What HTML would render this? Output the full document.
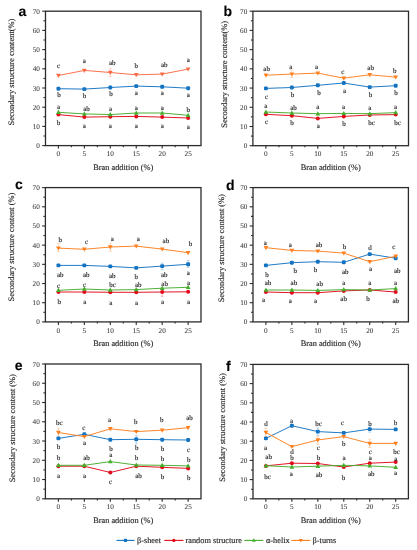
<!DOCTYPE html>
<html><head><meta charset="utf-8"><style>
html,body{margin:0;padding:0;background:#fff;width:417px;height:550px;overflow:hidden;font-family:"Liberation Serif", serif;}
svg{display:block;filter:blur(0.3px)}
</style></head><body>
<svg width="417" height="550" viewBox="0 0 417 550" font-family='"Liberation Serif", serif'>
<style>text{stroke:#2a2a2a;stroke-width:0.15px;paint-order:stroke;text-rendering:geometricPrecision}</style>
<rect width="417" height="550" fill="#fff"/>
<rect x="45.5" y="11.2" width="155.50" height="134.40" fill="none" stroke="#2b2b2b" stroke-width="1.3"/>
<line x1="42.20" y1="145.60" x2="45.5" y2="145.60" stroke="#2b2b2b" stroke-width="1.1"/>
<text x="39.90" y="148.10" text-anchor="end" font-size="7.2" fill="#383838" style="stroke-width:0.05px">0</text>
<line x1="43.50" y1="136.00" x2="45.5" y2="136.00" stroke="#2b2b2b" stroke-width="1.1"/>
<line x1="42.20" y1="126.40" x2="45.5" y2="126.40" stroke="#2b2b2b" stroke-width="1.1"/>
<text x="39.90" y="128.90" text-anchor="end" font-size="7.2" fill="#383838" style="stroke-width:0.05px">10</text>
<line x1="43.50" y1="116.80" x2="45.5" y2="116.80" stroke="#2b2b2b" stroke-width="1.1"/>
<line x1="42.20" y1="107.20" x2="45.5" y2="107.20" stroke="#2b2b2b" stroke-width="1.1"/>
<text x="39.90" y="109.70" text-anchor="end" font-size="7.2" fill="#383838" style="stroke-width:0.05px">20</text>
<line x1="43.50" y1="97.60" x2="45.5" y2="97.60" stroke="#2b2b2b" stroke-width="1.1"/>
<line x1="42.20" y1="88.00" x2="45.5" y2="88.00" stroke="#2b2b2b" stroke-width="1.1"/>
<text x="39.90" y="90.50" text-anchor="end" font-size="7.2" fill="#383838" style="stroke-width:0.05px">30</text>
<line x1="43.50" y1="78.40" x2="45.5" y2="78.40" stroke="#2b2b2b" stroke-width="1.1"/>
<line x1="42.20" y1="68.80" x2="45.5" y2="68.80" stroke="#2b2b2b" stroke-width="1.1"/>
<text x="39.90" y="71.30" text-anchor="end" font-size="7.2" fill="#383838" style="stroke-width:0.05px">40</text>
<line x1="43.50" y1="59.20" x2="45.5" y2="59.20" stroke="#2b2b2b" stroke-width="1.1"/>
<line x1="42.20" y1="49.60" x2="45.5" y2="49.60" stroke="#2b2b2b" stroke-width="1.1"/>
<text x="39.90" y="52.10" text-anchor="end" font-size="7.2" fill="#383838" style="stroke-width:0.05px">50</text>
<line x1="43.50" y1="40.00" x2="45.5" y2="40.00" stroke="#2b2b2b" stroke-width="1.1"/>
<line x1="42.20" y1="30.40" x2="45.5" y2="30.40" stroke="#2b2b2b" stroke-width="1.1"/>
<text x="39.90" y="32.90" text-anchor="end" font-size="7.2" fill="#383838" style="stroke-width:0.05px">60</text>
<line x1="43.50" y1="20.80" x2="45.5" y2="20.80" stroke="#2b2b2b" stroke-width="1.1"/>
<line x1="42.20" y1="11.20" x2="45.5" y2="11.20" stroke="#2b2b2b" stroke-width="1.1"/>
<text x="39.90" y="13.70" text-anchor="end" font-size="7.2" fill="#383838" style="stroke-width:0.05px">70</text>
<line x1="58.40" y1="145.6" x2="58.40" y2="148.60" stroke="#2b2b2b" stroke-width="1.1"/>
<text x="58.40" y="156.20" text-anchor="middle" font-size="7.2" fill="#383838" style="stroke-width:0.05px">0</text>
<line x1="71.38" y1="145.6" x2="71.38" y2="147.20" stroke="#2b2b2b" stroke-width="1.1"/>
<line x1="84.35" y1="145.6" x2="84.35" y2="148.60" stroke="#2b2b2b" stroke-width="1.1"/>
<text x="84.35" y="156.20" text-anchor="middle" font-size="7.2" fill="#383838" style="stroke-width:0.05px">5</text>
<line x1="97.32" y1="145.6" x2="97.32" y2="147.20" stroke="#2b2b2b" stroke-width="1.1"/>
<line x1="110.30" y1="145.6" x2="110.30" y2="148.60" stroke="#2b2b2b" stroke-width="1.1"/>
<text x="110.30" y="156.20" text-anchor="middle" font-size="7.2" fill="#383838" style="stroke-width:0.05px">10</text>
<line x1="123.27" y1="145.6" x2="123.27" y2="147.20" stroke="#2b2b2b" stroke-width="1.1"/>
<line x1="136.25" y1="145.6" x2="136.25" y2="148.60" stroke="#2b2b2b" stroke-width="1.1"/>
<text x="136.25" y="156.20" text-anchor="middle" font-size="7.2" fill="#383838" style="stroke-width:0.05px">15</text>
<line x1="149.22" y1="145.6" x2="149.22" y2="147.20" stroke="#2b2b2b" stroke-width="1.1"/>
<line x1="162.20" y1="145.6" x2="162.20" y2="148.60" stroke="#2b2b2b" stroke-width="1.1"/>
<text x="162.20" y="156.20" text-anchor="middle" font-size="7.2" fill="#383838" style="stroke-width:0.05px">20</text>
<line x1="175.18" y1="145.6" x2="175.18" y2="147.20" stroke="#2b2b2b" stroke-width="1.1"/>
<line x1="188.15" y1="145.6" x2="188.15" y2="148.60" stroke="#2b2b2b" stroke-width="1.1"/>
<text x="188.15" y="156.20" text-anchor="middle" font-size="7.2" fill="#383838" style="stroke-width:0.05px">25</text>
<text x="123.25" y="169.90" text-anchor="middle" font-size="8.3" fill="#2a2a2a">Bran addition (%)</text>
<text transform="translate(14.30,72.05) rotate(-90)" text-anchor="middle" font-size="8.3" fill="#2a2a2a" textLength="106.9" lengthAdjust="spacingAndGlyphs">Secondary structure content(%)</text>
<text x="18.60" y="15.5" font-family='"Liberation Sans", sans-serif' font-weight="bold" font-size="14" fill="#000" style="stroke-width:0.1px;stroke:#000">a</text>
<path d="M110.30,68.20V76.60M108.90,68.20H111.70M108.90,76.60H111.70" stroke="#fa6a45" stroke-width="0.8" fill="none" opacity="0.35"/>
<polyline points="58.40,88.70 84.35,89.10 110.30,87.50 136.25,86.10 162.20,86.80 188.15,88.20" fill="none" stroke="#1474c2" stroke-width="0.95" stroke-linejoin="round"/>
<rect x="56.45" y="86.75" width="3.9" height="3.9" rx="1.1" fill="#1474c2"/>
<rect x="82.40" y="87.15" width="3.9" height="3.9" rx="1.1" fill="#1474c2"/>
<rect x="108.35" y="85.55" width="3.9" height="3.9" rx="1.1" fill="#1474c2"/>
<rect x="134.30" y="84.15" width="3.9" height="3.9" rx="1.1" fill="#1474c2"/>
<rect x="160.25" y="84.85" width="3.9" height="3.9" rx="1.1" fill="#1474c2"/>
<rect x="186.20" y="86.25" width="3.9" height="3.9" rx="1.1" fill="#1474c2"/>
<polyline points="58.40,114.60 84.35,117.10 110.30,116.70 136.25,116.40 162.20,117.10 188.15,118.00" fill="none" stroke="#e20a1a" stroke-width="0.95" stroke-linejoin="round"/>
<circle cx="58.40" cy="114.60" r="2.0" fill="#e20a1a"/>
<circle cx="84.35" cy="117.10" r="2.0" fill="#e20a1a"/>
<circle cx="110.30" cy="116.70" r="2.0" fill="#e20a1a"/>
<circle cx="136.25" cy="116.40" r="2.0" fill="#e20a1a"/>
<circle cx="162.20" cy="117.10" r="2.0" fill="#e20a1a"/>
<circle cx="188.15" cy="118.00" r="2.0" fill="#e20a1a"/>
<polyline points="58.40,112.30 84.35,113.90 110.30,114.60 136.25,113.00 162.20,113.00 188.15,115.30" fill="none" stroke="#44ad2c" stroke-width="0.95" stroke-linejoin="round"/>
<path d="M58.40,109.80 L60.75,114.00 L56.05,114.00Z" fill="#44ad2c"/>
<path d="M84.35,111.40 L86.70,115.60 L82.00,115.60Z" fill="#44ad2c"/>
<path d="M110.30,112.10 L112.65,116.30 L107.95,116.30Z" fill="#44ad2c"/>
<path d="M136.25,110.50 L138.60,114.70 L133.90,114.70Z" fill="#44ad2c"/>
<path d="M162.20,110.50 L164.55,114.70 L159.85,114.70Z" fill="#44ad2c"/>
<path d="M188.15,112.80 L190.50,117.00 L185.80,117.00Z" fill="#44ad2c"/>
<polyline points="58.40,75.50 84.35,70.40 110.30,72.50 136.25,74.80 162.20,74.10 188.15,69.10" fill="none" stroke="#fa6a45" stroke-width="0.95" stroke-linejoin="round"/>
<path d="M56.05,73.80 L60.75,73.80 L58.40,78.00Z" fill="#fa6a45"/>
<path d="M82.00,68.70 L86.70,68.70 L84.35,72.90Z" fill="#fa6a45"/>
<path d="M107.95,70.80 L112.65,70.80 L110.30,75.00Z" fill="#fa6a45"/>
<path d="M133.90,73.10 L138.60,73.10 L136.25,77.30Z" fill="#fa6a45"/>
<path d="M159.85,72.40 L164.55,72.40 L162.20,76.60Z" fill="#fa6a45"/>
<path d="M185.80,67.40 L190.50,67.40 L188.15,71.60Z" fill="#fa6a45"/>
<text x="58.60" y="109.20" text-anchor="middle" font-size="7.0" fill="#2a2a2a">a</text>
<text x="86.50" y="110.90" text-anchor="middle" font-size="7.0" fill="#2a2a2a">ab</text>
<text x="110.60" y="110.90" text-anchor="middle" font-size="7.0" fill="#2a2a2a">a</text>
<text x="136.20" y="109.90" text-anchor="middle" font-size="7.0" fill="#2a2a2a">a</text>
<text x="162.20" y="109.90" text-anchor="middle" font-size="7.0" fill="#2a2a2a">a</text>
<text x="188.20" y="112.00" text-anchor="middle" font-size="7.0" fill="#2a2a2a">b</text>
<text x="58.60" y="125.20" text-anchor="middle" font-size="7.0" fill="#2a2a2a">b</text>
<text x="84.20" y="128.30" text-anchor="middle" font-size="7.0" fill="#2a2a2a">a</text>
<text x="110.40" y="127.90" text-anchor="middle" font-size="7.0" fill="#2a2a2a">a</text>
<text x="136.20" y="127.90" text-anchor="middle" font-size="7.0" fill="#2a2a2a">a</text>
<text x="162.20" y="128.10" text-anchor="middle" font-size="7.0" fill="#2a2a2a">a</text>
<text x="188.20" y="129.00" text-anchor="middle" font-size="7.0" fill="#2a2a2a">a</text>
<text x="58.90" y="97.20" text-anchor="middle" font-size="7.0" fill="#2a2a2a">b</text>
<text x="84.60" y="97.90" text-anchor="middle" font-size="7.0" fill="#2a2a2a">b</text>
<text x="110.90" y="96.00" text-anchor="middle" font-size="7.0" fill="#2a2a2a">b</text>
<text x="136.20" y="94.90" text-anchor="middle" font-size="7.0" fill="#2a2a2a">a</text>
<text x="162.20" y="95.30" text-anchor="middle" font-size="7.0" fill="#2a2a2a">a</text>
<text x="188.20" y="97.00" text-anchor="middle" font-size="7.0" fill="#2a2a2a">a</text>
<text x="58.60" y="68.30" text-anchor="middle" font-size="7.0" fill="#2a2a2a">c</text>
<text x="84.20" y="63.10" text-anchor="middle" font-size="7.0" fill="#2a2a2a">a</text>
<text x="112.30" y="64.50" text-anchor="middle" font-size="7.0" fill="#2a2a2a">ab</text>
<text x="136.20" y="67.60" text-anchor="middle" font-size="7.0" fill="#2a2a2a">b</text>
<text x="164.30" y="66.70" text-anchor="middle" font-size="7.0" fill="#2a2a2a">ab</text>
<text x="188.20" y="61.80" text-anchor="middle" font-size="7.0" fill="#2a2a2a">a</text>
<rect x="252.9" y="11.2" width="155.60" height="134.50" fill="none" stroke="#2b2b2b" stroke-width="1.3"/>
<line x1="249.60" y1="145.70" x2="252.9" y2="145.70" stroke="#2b2b2b" stroke-width="1.1"/>
<text x="247.30" y="148.20" text-anchor="end" font-size="7.2" fill="#383838" style="stroke-width:0.05px">0</text>
<line x1="250.90" y1="136.09" x2="252.9" y2="136.09" stroke="#2b2b2b" stroke-width="1.1"/>
<line x1="249.60" y1="126.49" x2="252.9" y2="126.49" stroke="#2b2b2b" stroke-width="1.1"/>
<text x="247.30" y="128.99" text-anchor="end" font-size="7.2" fill="#383838" style="stroke-width:0.05px">10</text>
<line x1="250.90" y1="116.88" x2="252.9" y2="116.88" stroke="#2b2b2b" stroke-width="1.1"/>
<line x1="249.60" y1="107.27" x2="252.9" y2="107.27" stroke="#2b2b2b" stroke-width="1.1"/>
<text x="247.30" y="109.77" text-anchor="end" font-size="7.2" fill="#383838" style="stroke-width:0.05px">20</text>
<line x1="250.90" y1="97.66" x2="252.9" y2="97.66" stroke="#2b2b2b" stroke-width="1.1"/>
<line x1="249.60" y1="88.06" x2="252.9" y2="88.06" stroke="#2b2b2b" stroke-width="1.1"/>
<text x="247.30" y="90.56" text-anchor="end" font-size="7.2" fill="#383838" style="stroke-width:0.05px">30</text>
<line x1="250.90" y1="78.45" x2="252.9" y2="78.45" stroke="#2b2b2b" stroke-width="1.1"/>
<line x1="249.60" y1="68.84" x2="252.9" y2="68.84" stroke="#2b2b2b" stroke-width="1.1"/>
<text x="247.30" y="71.34" text-anchor="end" font-size="7.2" fill="#383838" style="stroke-width:0.05px">40</text>
<line x1="250.90" y1="59.24" x2="252.9" y2="59.24" stroke="#2b2b2b" stroke-width="1.1"/>
<line x1="249.60" y1="49.63" x2="252.9" y2="49.63" stroke="#2b2b2b" stroke-width="1.1"/>
<text x="247.30" y="52.13" text-anchor="end" font-size="7.2" fill="#383838" style="stroke-width:0.05px">50</text>
<line x1="250.90" y1="40.02" x2="252.9" y2="40.02" stroke="#2b2b2b" stroke-width="1.1"/>
<line x1="249.60" y1="30.41" x2="252.9" y2="30.41" stroke="#2b2b2b" stroke-width="1.1"/>
<text x="247.30" y="32.91" text-anchor="end" font-size="7.2" fill="#383838" style="stroke-width:0.05px">60</text>
<line x1="250.90" y1="20.81" x2="252.9" y2="20.81" stroke="#2b2b2b" stroke-width="1.1"/>
<line x1="249.60" y1="11.20" x2="252.9" y2="11.20" stroke="#2b2b2b" stroke-width="1.1"/>
<text x="247.30" y="13.70" text-anchor="end" font-size="7.2" fill="#383838" style="stroke-width:0.05px">70</text>
<line x1="265.90" y1="145.7" x2="265.90" y2="148.70" stroke="#2b2b2b" stroke-width="1.1"/>
<text x="265.90" y="156.30" text-anchor="middle" font-size="7.2" fill="#383838" style="stroke-width:0.05px">0</text>
<line x1="278.88" y1="145.7" x2="278.88" y2="147.30" stroke="#2b2b2b" stroke-width="1.1"/>
<line x1="291.86" y1="145.7" x2="291.86" y2="148.70" stroke="#2b2b2b" stroke-width="1.1"/>
<text x="291.86" y="156.30" text-anchor="middle" font-size="7.2" fill="#383838" style="stroke-width:0.05px">5</text>
<line x1="304.84" y1="145.7" x2="304.84" y2="147.30" stroke="#2b2b2b" stroke-width="1.1"/>
<line x1="317.82" y1="145.7" x2="317.82" y2="148.70" stroke="#2b2b2b" stroke-width="1.1"/>
<text x="317.82" y="156.30" text-anchor="middle" font-size="7.2" fill="#383838" style="stroke-width:0.05px">10</text>
<line x1="330.80" y1="145.7" x2="330.80" y2="147.30" stroke="#2b2b2b" stroke-width="1.1"/>
<line x1="343.78" y1="145.7" x2="343.78" y2="148.70" stroke="#2b2b2b" stroke-width="1.1"/>
<text x="343.78" y="156.30" text-anchor="middle" font-size="7.2" fill="#383838" style="stroke-width:0.05px">15</text>
<line x1="356.76" y1="145.7" x2="356.76" y2="147.30" stroke="#2b2b2b" stroke-width="1.1"/>
<line x1="369.74" y1="145.7" x2="369.74" y2="148.70" stroke="#2b2b2b" stroke-width="1.1"/>
<text x="369.74" y="156.30" text-anchor="middle" font-size="7.2" fill="#383838" style="stroke-width:0.05px">20</text>
<line x1="382.72" y1="145.7" x2="382.72" y2="147.30" stroke="#2b2b2b" stroke-width="1.1"/>
<line x1="395.70" y1="145.7" x2="395.70" y2="148.70" stroke="#2b2b2b" stroke-width="1.1"/>
<text x="395.70" y="156.30" text-anchor="middle" font-size="7.2" fill="#383838" style="stroke-width:0.05px">25</text>
<text x="330.70" y="170.00" text-anchor="middle" font-size="8.3" fill="#2a2a2a">Bran addition (%)</text>
<text transform="translate(226.60,74.30) rotate(-90)" text-anchor="middle" font-size="8.3" fill="#2a2a2a" textLength="106.8" lengthAdjust="spacingAndGlyphs">Secondary structure content(%)</text>
<text x="223.40" y="15.5" font-family='"Liberation Sans", sans-serif' font-weight="bold" font-size="14" fill="#000" style="stroke-width:0.1px;stroke:#000">b</text>
<path d="M291.86,70.20V77.50M290.46,70.20H293.26M290.46,77.50H293.26" stroke="#ff7f1e" stroke-width="0.8" fill="none" opacity="0.35"/>
<polyline points="265.90,88.40 291.86,87.50 317.82,85.30 343.78,83.00 369.74,87.10 395.70,85.70" fill="none" stroke="#1474c2" stroke-width="0.95" stroke-linejoin="round"/>
<rect x="263.95" y="86.45" width="3.9" height="3.9" rx="1.1" fill="#1474c2"/>
<rect x="289.91" y="85.55" width="3.9" height="3.9" rx="1.1" fill="#1474c2"/>
<rect x="315.87" y="83.35" width="3.9" height="3.9" rx="1.1" fill="#1474c2"/>
<rect x="341.83" y="81.05" width="3.9" height="3.9" rx="1.1" fill="#1474c2"/>
<rect x="367.79" y="85.15" width="3.9" height="3.9" rx="1.1" fill="#1474c2"/>
<rect x="393.75" y="83.75" width="3.9" height="3.9" rx="1.1" fill="#1474c2"/>
<polyline points="265.90,114.30 291.86,115.70 317.82,118.40 343.78,116.40 369.74,115.00 395.70,114.60" fill="none" stroke="#e20a1a" stroke-width="0.95" stroke-linejoin="round"/>
<circle cx="265.90" cy="114.30" r="2.0" fill="#e20a1a"/>
<circle cx="291.86" cy="115.70" r="2.0" fill="#e20a1a"/>
<circle cx="317.82" cy="118.40" r="2.0" fill="#e20a1a"/>
<circle cx="343.78" cy="116.40" r="2.0" fill="#e20a1a"/>
<circle cx="369.74" cy="115.00" r="2.0" fill="#e20a1a"/>
<circle cx="395.70" cy="114.60" r="2.0" fill="#e20a1a"/>
<polyline points="265.90,112.00 291.86,113.00 317.82,113.70 343.78,113.40 369.74,113.70 395.70,112.60" fill="none" stroke="#44ad2c" stroke-width="0.95" stroke-linejoin="round"/>
<path d="M265.90,109.50 L268.25,113.70 L263.55,113.70Z" fill="#44ad2c"/>
<path d="M291.86,110.50 L294.21,114.70 L289.51,114.70Z" fill="#44ad2c"/>
<path d="M317.82,111.20 L320.17,115.40 L315.47,115.40Z" fill="#44ad2c"/>
<path d="M343.78,110.90 L346.13,115.10 L341.43,115.10Z" fill="#44ad2c"/>
<path d="M369.74,111.20 L372.09,115.40 L367.39,115.40Z" fill="#44ad2c"/>
<path d="M395.70,110.10 L398.05,114.30 L393.35,114.30Z" fill="#44ad2c"/>
<polyline points="265.90,75.20 291.86,74.10 317.82,73.10 343.78,78.20 369.74,74.80 395.70,77.10" fill="none" stroke="#ff7f1e" stroke-width="0.95" stroke-linejoin="round"/>
<path d="M263.55,73.50 L268.25,73.50 L265.90,77.70Z" fill="#ff7f1e"/>
<path d="M289.51,72.40 L294.21,72.40 L291.86,76.60Z" fill="#ff7f1e"/>
<path d="M315.47,71.40 L320.17,71.40 L317.82,75.60Z" fill="#ff7f1e"/>
<path d="M341.43,76.50 L346.13,76.50 L343.78,80.70Z" fill="#ff7f1e"/>
<path d="M367.39,73.10 L372.09,73.10 L369.74,77.30Z" fill="#ff7f1e"/>
<path d="M393.35,75.40 L398.05,75.40 L395.70,79.60Z" fill="#ff7f1e"/>
<text x="265.90" y="108.30" text-anchor="middle" font-size="7.0" fill="#2a2a2a">a</text>
<text x="293.50" y="109.50" text-anchor="middle" font-size="7.0" fill="#2a2a2a">ab</text>
<text x="317.90" y="109.20" text-anchor="middle" font-size="7.0" fill="#2a2a2a">a</text>
<text x="343.60" y="109.20" text-anchor="middle" font-size="7.0" fill="#2a2a2a">a</text>
<text x="369.90" y="109.50" text-anchor="middle" font-size="7.0" fill="#2a2a2a">a</text>
<text x="395.60" y="109.00" text-anchor="middle" font-size="7.0" fill="#2a2a2a">a</text>
<text x="266.60" y="124.20" text-anchor="middle" font-size="7.0" fill="#2a2a2a">c</text>
<text x="292.10" y="125.20" text-anchor="middle" font-size="7.0" fill="#2a2a2a">b</text>
<text x="318.20" y="128.30" text-anchor="middle" font-size="7.0" fill="#2a2a2a">a</text>
<text x="344.10" y="126.30" text-anchor="middle" font-size="7.0" fill="#2a2a2a">b</text>
<text x="371.60" y="124.90" text-anchor="middle" font-size="7.0" fill="#2a2a2a">bc</text>
<text x="397.50" y="124.90" text-anchor="middle" font-size="7.0" fill="#2a2a2a">bc</text>
<text x="266.60" y="98.70" text-anchor="middle" font-size="7.0" fill="#2a2a2a">c</text>
<text x="292.50" y="97.20" text-anchor="middle" font-size="7.0" fill="#2a2a2a">b</text>
<text x="319.00" y="94.90" text-anchor="middle" font-size="7.0" fill="#2a2a2a">b</text>
<text x="344.50" y="93.10" text-anchor="middle" font-size="7.0" fill="#2a2a2a">a</text>
<text x="370.60" y="97.00" text-anchor="middle" font-size="7.0" fill="#2a2a2a">b</text>
<text x="396.10" y="94.90" text-anchor="middle" font-size="7.0" fill="#2a2a2a">b</text>
<text x="266.60" y="70.60" text-anchor="middle" font-size="7.0" fill="#2a2a2a">ab</text>
<text x="290.70" y="69.40" text-anchor="middle" font-size="7.0" fill="#2a2a2a">a</text>
<text x="316.50" y="68.60" text-anchor="middle" font-size="7.0" fill="#2a2a2a">a</text>
<text x="342.70" y="73.80" text-anchor="middle" font-size="7.0" fill="#2a2a2a">c</text>
<text x="370.60" y="70.40" text-anchor="middle" font-size="7.0" fill="#2a2a2a">ab</text>
<text x="394.70" y="72.70" text-anchor="middle" font-size="7.0" fill="#2a2a2a">b</text>
<rect x="45.4" y="187.6" width="155.60" height="134.30" fill="none" stroke="#2b2b2b" stroke-width="1.3"/>
<line x1="42.10" y1="321.90" x2="45.4" y2="321.90" stroke="#2b2b2b" stroke-width="1.1"/>
<text x="39.80" y="324.40" text-anchor="end" font-size="7.2" fill="#383838" style="stroke-width:0.05px">0</text>
<line x1="43.40" y1="312.31" x2="45.4" y2="312.31" stroke="#2b2b2b" stroke-width="1.1"/>
<line x1="42.10" y1="302.71" x2="45.4" y2="302.71" stroke="#2b2b2b" stroke-width="1.1"/>
<text x="39.80" y="305.21" text-anchor="end" font-size="7.2" fill="#383838" style="stroke-width:0.05px">10</text>
<line x1="43.40" y1="293.12" x2="45.4" y2="293.12" stroke="#2b2b2b" stroke-width="1.1"/>
<line x1="42.10" y1="283.53" x2="45.4" y2="283.53" stroke="#2b2b2b" stroke-width="1.1"/>
<text x="39.80" y="286.03" text-anchor="end" font-size="7.2" fill="#383838" style="stroke-width:0.05px">20</text>
<line x1="43.40" y1="273.94" x2="45.4" y2="273.94" stroke="#2b2b2b" stroke-width="1.1"/>
<line x1="42.10" y1="264.34" x2="45.4" y2="264.34" stroke="#2b2b2b" stroke-width="1.1"/>
<text x="39.80" y="266.84" text-anchor="end" font-size="7.2" fill="#383838" style="stroke-width:0.05px">30</text>
<line x1="43.40" y1="254.75" x2="45.4" y2="254.75" stroke="#2b2b2b" stroke-width="1.1"/>
<line x1="42.10" y1="245.16" x2="45.4" y2="245.16" stroke="#2b2b2b" stroke-width="1.1"/>
<text x="39.80" y="247.66" text-anchor="end" font-size="7.2" fill="#383838" style="stroke-width:0.05px">40</text>
<line x1="43.40" y1="235.56" x2="45.4" y2="235.56" stroke="#2b2b2b" stroke-width="1.1"/>
<line x1="42.10" y1="225.97" x2="45.4" y2="225.97" stroke="#2b2b2b" stroke-width="1.1"/>
<text x="39.80" y="228.47" text-anchor="end" font-size="7.2" fill="#383838" style="stroke-width:0.05px">50</text>
<line x1="43.40" y1="216.38" x2="45.4" y2="216.38" stroke="#2b2b2b" stroke-width="1.1"/>
<line x1="42.10" y1="206.79" x2="45.4" y2="206.79" stroke="#2b2b2b" stroke-width="1.1"/>
<text x="39.80" y="209.29" text-anchor="end" font-size="7.2" fill="#383838" style="stroke-width:0.05px">60</text>
<line x1="43.40" y1="197.19" x2="45.4" y2="197.19" stroke="#2b2b2b" stroke-width="1.1"/>
<line x1="42.10" y1="187.60" x2="45.4" y2="187.60" stroke="#2b2b2b" stroke-width="1.1"/>
<text x="39.80" y="190.10" text-anchor="end" font-size="7.2" fill="#383838" style="stroke-width:0.05px">70</text>
<line x1="58.40" y1="321.9" x2="58.40" y2="324.90" stroke="#2b2b2b" stroke-width="1.1"/>
<text x="58.40" y="332.50" text-anchor="middle" font-size="7.2" fill="#383838" style="stroke-width:0.05px">0</text>
<line x1="71.38" y1="321.9" x2="71.38" y2="323.50" stroke="#2b2b2b" stroke-width="1.1"/>
<line x1="84.35" y1="321.9" x2="84.35" y2="324.90" stroke="#2b2b2b" stroke-width="1.1"/>
<text x="84.35" y="332.50" text-anchor="middle" font-size="7.2" fill="#383838" style="stroke-width:0.05px">5</text>
<line x1="97.32" y1="321.9" x2="97.32" y2="323.50" stroke="#2b2b2b" stroke-width="1.1"/>
<line x1="110.30" y1="321.9" x2="110.30" y2="324.90" stroke="#2b2b2b" stroke-width="1.1"/>
<text x="110.30" y="332.50" text-anchor="middle" font-size="7.2" fill="#383838" style="stroke-width:0.05px">10</text>
<line x1="123.27" y1="321.9" x2="123.27" y2="323.50" stroke="#2b2b2b" stroke-width="1.1"/>
<line x1="136.25" y1="321.9" x2="136.25" y2="324.90" stroke="#2b2b2b" stroke-width="1.1"/>
<text x="136.25" y="332.50" text-anchor="middle" font-size="7.2" fill="#383838" style="stroke-width:0.05px">15</text>
<line x1="149.22" y1="321.9" x2="149.22" y2="323.50" stroke="#2b2b2b" stroke-width="1.1"/>
<line x1="162.20" y1="321.9" x2="162.20" y2="324.90" stroke="#2b2b2b" stroke-width="1.1"/>
<text x="162.20" y="332.50" text-anchor="middle" font-size="7.2" fill="#383838" style="stroke-width:0.05px">20</text>
<line x1="175.18" y1="321.9" x2="175.18" y2="323.50" stroke="#2b2b2b" stroke-width="1.1"/>
<line x1="188.15" y1="321.9" x2="188.15" y2="324.90" stroke="#2b2b2b" stroke-width="1.1"/>
<text x="188.15" y="332.50" text-anchor="middle" font-size="7.2" fill="#383838" style="stroke-width:0.05px">25</text>
<text x="123.20" y="346.20" text-anchor="middle" font-size="8.3" fill="#2a2a2a">Bran addition (%)</text>
<text transform="translate(14.30,247.05) rotate(-90)" text-anchor="middle" font-size="8.3" fill="#2a2a2a" textLength="108.7" lengthAdjust="spacingAndGlyphs">Secondary structure content (%)</text>
<text x="15.00" y="189.0" font-family='"Liberation Sans", sans-serif' font-weight="bold" font-size="14" fill="#000" style="stroke-width:0.1px;stroke:#000">c</text>
<path d="M58.40,243.40V251.80M57.00,243.40H59.80M57.00,251.80H59.80" stroke="#ff7f1e" stroke-width="0.8" fill="none" opacity="0.35"/>
<path d="M110.30,243.40V251.40M108.90,243.40H111.70M108.90,251.40H111.70" stroke="#ff7f1e" stroke-width="0.8" fill="none" opacity="0.35"/>
<path d="M162.20,263.20V269.90M160.80,263.20H163.60M160.80,269.90H163.60" stroke="#1474c2" stroke-width="0.8" fill="none" opacity="0.35"/>
<path d="M188.15,260.30V267.50M186.75,260.30H189.55M186.75,267.50H189.55" stroke="#1474c2" stroke-width="0.8" fill="none" opacity="0.35"/>
<path d="M162.20,289.00V296.30M160.80,289.00H163.60M160.80,296.30H163.60" stroke="#e20a1a" stroke-width="0.8" fill="none" opacity="0.35"/>
<polyline points="58.40,265.40 84.35,265.40 110.30,266.40 136.25,267.90 162.20,266.10 188.15,264.30" fill="none" stroke="#1474c2" stroke-width="0.95" stroke-linejoin="round"/>
<rect x="56.45" y="263.45" width="3.9" height="3.9" rx="1.1" fill="#1474c2"/>
<rect x="82.40" y="263.45" width="3.9" height="3.9" rx="1.1" fill="#1474c2"/>
<rect x="108.35" y="264.45" width="3.9" height="3.9" rx="1.1" fill="#1474c2"/>
<rect x="134.30" y="265.95" width="3.9" height="3.9" rx="1.1" fill="#1474c2"/>
<rect x="160.25" y="264.15" width="3.9" height="3.9" rx="1.1" fill="#1474c2"/>
<rect x="186.20" y="262.35" width="3.9" height="3.9" rx="1.1" fill="#1474c2"/>
<polyline points="58.40,292.00 84.35,292.00 110.30,292.30 136.25,292.30 162.20,292.00 188.15,291.80" fill="none" stroke="#e20a1a" stroke-width="0.95" stroke-linejoin="round"/>
<circle cx="58.40" cy="292.00" r="2.0" fill="#e20a1a"/>
<circle cx="84.35" cy="292.00" r="2.0" fill="#e20a1a"/>
<circle cx="110.30" cy="292.30" r="2.0" fill="#e20a1a"/>
<circle cx="136.25" cy="292.30" r="2.0" fill="#e20a1a"/>
<circle cx="162.20" cy="292.00" r="2.0" fill="#e20a1a"/>
<circle cx="188.15" cy="291.80" r="2.0" fill="#e20a1a"/>
<polyline points="58.40,290.30 84.35,289.00 110.30,290.00 136.25,289.60 162.20,288.20 188.15,287.30" fill="none" stroke="#44ad2c" stroke-width="0.95" stroke-linejoin="round"/>
<path d="M58.40,287.80 L60.75,292.00 L56.05,292.00Z" fill="#44ad2c"/>
<path d="M84.35,286.50 L86.70,290.70 L82.00,290.70Z" fill="#44ad2c"/>
<path d="M110.30,287.50 L112.65,291.70 L107.95,291.70Z" fill="#44ad2c"/>
<path d="M136.25,287.10 L138.60,291.30 L133.90,291.30Z" fill="#44ad2c"/>
<path d="M162.20,285.70 L164.55,289.90 L159.85,289.90Z" fill="#44ad2c"/>
<path d="M188.15,284.80 L190.50,289.00 L185.80,289.00Z" fill="#44ad2c"/>
<polyline points="58.40,248.10 84.35,249.30 110.30,247.00 136.25,246.10 162.20,249.10 188.15,252.70" fill="none" stroke="#ff7f1e" stroke-width="0.95" stroke-linejoin="round"/>
<path d="M56.05,246.40 L60.75,246.40 L58.40,250.60Z" fill="#ff7f1e"/>
<path d="M82.00,247.60 L86.70,247.60 L84.35,251.80Z" fill="#ff7f1e"/>
<path d="M107.95,245.30 L112.65,245.30 L110.30,249.50Z" fill="#ff7f1e"/>
<path d="M133.90,244.40 L138.60,244.40 L136.25,248.60Z" fill="#ff7f1e"/>
<path d="M159.85,247.40 L164.55,247.40 L162.20,251.60Z" fill="#ff7f1e"/>
<path d="M185.80,251.00 L190.50,251.00 L188.15,255.20Z" fill="#ff7f1e"/>
<text x="58.60" y="287.60" text-anchor="middle" font-size="7.0" fill="#2a2a2a">c</text>
<text x="84.60" y="286.50" text-anchor="middle" font-size="7.0" fill="#2a2a2a">c</text>
<text x="112.60" y="286.90" text-anchor="middle" font-size="7.0" fill="#2a2a2a">bc</text>
<text x="138.20" y="286.90" text-anchor="middle" font-size="7.0" fill="#2a2a2a">ab</text>
<text x="164.60" y="286.00" text-anchor="middle" font-size="7.0" fill="#2a2a2a">ab</text>
<text x="188.60" y="284.90" text-anchor="middle" font-size="7.0" fill="#2a2a2a">a</text>
<text x="59.20" y="304.00" text-anchor="middle" font-size="7.0" fill="#2a2a2a">b</text>
<text x="84.80" y="304.00" text-anchor="middle" font-size="7.0" fill="#2a2a2a">a</text>
<text x="110.90" y="304.70" text-anchor="middle" font-size="7.0" fill="#2a2a2a">a</text>
<text x="136.60" y="304.70" text-anchor="middle" font-size="7.0" fill="#2a2a2a">a</text>
<text x="162.60" y="304.20" text-anchor="middle" font-size="7.0" fill="#2a2a2a">a</text>
<text x="188.60" y="303.70" text-anchor="middle" font-size="7.0" fill="#2a2a2a">a</text>
<text x="60.30" y="276.70" text-anchor="middle" font-size="7.0" fill="#2a2a2a">ab</text>
<text x="86.20" y="276.70" text-anchor="middle" font-size="7.0" fill="#2a2a2a">ab</text>
<text x="112.30" y="277.80" text-anchor="middle" font-size="7.0" fill="#2a2a2a">ab</text>
<text x="136.20" y="278.70" text-anchor="middle" font-size="7.0" fill="#2a2a2a">b</text>
<text x="164.30" y="277.40" text-anchor="middle" font-size="7.0" fill="#2a2a2a">ab</text>
<text x="188.20" y="275.10" text-anchor="middle" font-size="7.0" fill="#2a2a2a">a</text>
<text x="60.30" y="241.90" text-anchor="middle" font-size="7.0" fill="#2a2a2a">b</text>
<text x="86.50" y="243.70" text-anchor="middle" font-size="7.0" fill="#2a2a2a">c</text>
<text x="112.30" y="241.20" text-anchor="middle" font-size="7.0" fill="#2a2a2a">a</text>
<text x="138.20" y="240.50" text-anchor="middle" font-size="7.0" fill="#2a2a2a">a</text>
<text x="165.90" y="242.60" text-anchor="middle" font-size="7.0" fill="#2a2a2a">ab</text>
<text x="190.50" y="246.40" text-anchor="middle" font-size="7.0" fill="#2a2a2a">b</text>
<rect x="253.0" y="187.6" width="155.40" height="134.30" fill="none" stroke="#2b2b2b" stroke-width="1.3"/>
<line x1="249.70" y1="321.90" x2="253.0" y2="321.90" stroke="#2b2b2b" stroke-width="1.1"/>
<text x="247.40" y="324.40" text-anchor="end" font-size="7.2" fill="#383838" style="stroke-width:0.05px">0</text>
<line x1="251.00" y1="312.31" x2="253.0" y2="312.31" stroke="#2b2b2b" stroke-width="1.1"/>
<line x1="249.70" y1="302.71" x2="253.0" y2="302.71" stroke="#2b2b2b" stroke-width="1.1"/>
<text x="247.40" y="305.21" text-anchor="end" font-size="7.2" fill="#383838" style="stroke-width:0.05px">10</text>
<line x1="251.00" y1="293.12" x2="253.0" y2="293.12" stroke="#2b2b2b" stroke-width="1.1"/>
<line x1="249.70" y1="283.53" x2="253.0" y2="283.53" stroke="#2b2b2b" stroke-width="1.1"/>
<text x="247.40" y="286.03" text-anchor="end" font-size="7.2" fill="#383838" style="stroke-width:0.05px">20</text>
<line x1="251.00" y1="273.94" x2="253.0" y2="273.94" stroke="#2b2b2b" stroke-width="1.1"/>
<line x1="249.70" y1="264.34" x2="253.0" y2="264.34" stroke="#2b2b2b" stroke-width="1.1"/>
<text x="247.40" y="266.84" text-anchor="end" font-size="7.2" fill="#383838" style="stroke-width:0.05px">30</text>
<line x1="251.00" y1="254.75" x2="253.0" y2="254.75" stroke="#2b2b2b" stroke-width="1.1"/>
<line x1="249.70" y1="245.16" x2="253.0" y2="245.16" stroke="#2b2b2b" stroke-width="1.1"/>
<text x="247.40" y="247.66" text-anchor="end" font-size="7.2" fill="#383838" style="stroke-width:0.05px">40</text>
<line x1="251.00" y1="235.56" x2="253.0" y2="235.56" stroke="#2b2b2b" stroke-width="1.1"/>
<line x1="249.70" y1="225.97" x2="253.0" y2="225.97" stroke="#2b2b2b" stroke-width="1.1"/>
<text x="247.40" y="228.47" text-anchor="end" font-size="7.2" fill="#383838" style="stroke-width:0.05px">50</text>
<line x1="251.00" y1="216.38" x2="253.0" y2="216.38" stroke="#2b2b2b" stroke-width="1.1"/>
<line x1="249.70" y1="206.79" x2="253.0" y2="206.79" stroke="#2b2b2b" stroke-width="1.1"/>
<text x="247.40" y="209.29" text-anchor="end" font-size="7.2" fill="#383838" style="stroke-width:0.05px">60</text>
<line x1="251.00" y1="197.19" x2="253.0" y2="197.19" stroke="#2b2b2b" stroke-width="1.1"/>
<line x1="249.70" y1="187.60" x2="253.0" y2="187.60" stroke="#2b2b2b" stroke-width="1.1"/>
<text x="247.40" y="190.10" text-anchor="end" font-size="7.2" fill="#383838" style="stroke-width:0.05px">70</text>
<line x1="265.90" y1="321.9" x2="265.90" y2="324.90" stroke="#2b2b2b" stroke-width="1.1"/>
<text x="265.90" y="332.50" text-anchor="middle" font-size="7.2" fill="#383838" style="stroke-width:0.05px">0</text>
<line x1="278.88" y1="321.9" x2="278.88" y2="323.50" stroke="#2b2b2b" stroke-width="1.1"/>
<line x1="291.86" y1="321.9" x2="291.86" y2="324.90" stroke="#2b2b2b" stroke-width="1.1"/>
<text x="291.86" y="332.50" text-anchor="middle" font-size="7.2" fill="#383838" style="stroke-width:0.05px">5</text>
<line x1="304.84" y1="321.9" x2="304.84" y2="323.50" stroke="#2b2b2b" stroke-width="1.1"/>
<line x1="317.82" y1="321.9" x2="317.82" y2="324.90" stroke="#2b2b2b" stroke-width="1.1"/>
<text x="317.82" y="332.50" text-anchor="middle" font-size="7.2" fill="#383838" style="stroke-width:0.05px">10</text>
<line x1="330.80" y1="321.9" x2="330.80" y2="323.50" stroke="#2b2b2b" stroke-width="1.1"/>
<line x1="343.78" y1="321.9" x2="343.78" y2="324.90" stroke="#2b2b2b" stroke-width="1.1"/>
<text x="343.78" y="332.50" text-anchor="middle" font-size="7.2" fill="#383838" style="stroke-width:0.05px">15</text>
<line x1="356.76" y1="321.9" x2="356.76" y2="323.50" stroke="#2b2b2b" stroke-width="1.1"/>
<line x1="369.74" y1="321.9" x2="369.74" y2="324.90" stroke="#2b2b2b" stroke-width="1.1"/>
<text x="369.74" y="332.50" text-anchor="middle" font-size="7.2" fill="#383838" style="stroke-width:0.05px">20</text>
<line x1="382.72" y1="321.9" x2="382.72" y2="323.50" stroke="#2b2b2b" stroke-width="1.1"/>
<line x1="395.70" y1="321.9" x2="395.70" y2="324.90" stroke="#2b2b2b" stroke-width="1.1"/>
<text x="395.70" y="332.50" text-anchor="middle" font-size="7.2" fill="#383838" style="stroke-width:0.05px">25</text>
<text x="330.70" y="346.20" text-anchor="middle" font-size="8.3" fill="#2a2a2a">Bran addition (%)</text>
<text transform="translate(224.00,248.20) rotate(-90)" text-anchor="middle" font-size="8.3" fill="#2a2a2a" textLength="108.2" lengthAdjust="spacingAndGlyphs">Secondary structure content (%)</text>
<text x="225.90" y="190.1" font-family='"Liberation Sans", sans-serif' font-weight="bold" font-size="14" fill="#000" style="stroke-width:0.1px;stroke:#000">d</text>
<polyline points="265.90,265.40 291.86,262.70 317.82,261.70 343.78,262.30 369.74,254.10 395.70,258.20" fill="none" stroke="#1474c2" stroke-width="0.95" stroke-linejoin="round"/>
<rect x="263.95" y="263.45" width="3.9" height="3.9" rx="1.1" fill="#1474c2"/>
<rect x="289.91" y="260.75" width="3.9" height="3.9" rx="1.1" fill="#1474c2"/>
<rect x="315.87" y="259.75" width="3.9" height="3.9" rx="1.1" fill="#1474c2"/>
<rect x="341.83" y="260.35" width="3.9" height="3.9" rx="1.1" fill="#1474c2"/>
<rect x="367.79" y="252.15" width="3.9" height="3.9" rx="1.1" fill="#1474c2"/>
<rect x="393.75" y="256.25" width="3.9" height="3.9" rx="1.1" fill="#1474c2"/>
<polyline points="265.90,292.00 291.86,292.70 317.82,292.70 343.78,290.90 369.74,290.00 395.70,292.00" fill="none" stroke="#e20a1a" stroke-width="0.95" stroke-linejoin="round"/>
<circle cx="265.90" cy="292.00" r="2.0" fill="#e20a1a"/>
<circle cx="291.86" cy="292.70" r="2.0" fill="#e20a1a"/>
<circle cx="317.82" cy="292.70" r="2.0" fill="#e20a1a"/>
<circle cx="343.78" cy="290.90" r="2.0" fill="#e20a1a"/>
<circle cx="369.74" cy="290.00" r="2.0" fill="#e20a1a"/>
<circle cx="395.70" cy="292.00" r="2.0" fill="#e20a1a"/>
<polyline points="265.90,290.00 291.86,290.00 317.82,290.40 343.78,289.60 369.74,290.00 395.70,288.60" fill="none" stroke="#44ad2c" stroke-width="0.95" stroke-linejoin="round"/>
<path d="M265.90,287.50 L268.25,291.70 L263.55,291.70Z" fill="#44ad2c"/>
<path d="M291.86,287.50 L294.21,291.70 L289.51,291.70Z" fill="#44ad2c"/>
<path d="M317.82,287.90 L320.17,292.10 L315.47,292.10Z" fill="#44ad2c"/>
<path d="M343.78,287.10 L346.13,291.30 L341.43,291.30Z" fill="#44ad2c"/>
<path d="M369.74,287.50 L372.09,291.70 L367.39,291.70Z" fill="#44ad2c"/>
<path d="M395.70,286.10 L398.05,290.30 L393.35,290.30Z" fill="#44ad2c"/>
<polyline points="265.90,247.70 291.86,250.40 317.82,251.10 343.78,253.10 369.74,261.70 395.70,256.30" fill="none" stroke="#ff7f1e" stroke-width="0.95" stroke-linejoin="round"/>
<path d="M263.55,246.00 L268.25,246.00 L265.90,250.20Z" fill="#ff7f1e"/>
<path d="M289.51,248.70 L294.21,248.70 L291.86,252.90Z" fill="#ff7f1e"/>
<path d="M315.47,249.40 L320.17,249.40 L317.82,253.60Z" fill="#ff7f1e"/>
<path d="M341.43,251.40 L346.13,251.40 L343.78,255.60Z" fill="#ff7f1e"/>
<path d="M367.39,260.00 L372.09,260.00 L369.74,264.20Z" fill="#ff7f1e"/>
<path d="M393.35,254.60 L398.05,254.60 L395.70,258.80Z" fill="#ff7f1e"/>
<text x="268.00" y="285.20" text-anchor="middle" font-size="7.0" fill="#2a2a2a">ab</text>
<text x="293.90" y="285.20" text-anchor="middle" font-size="7.0" fill="#2a2a2a">ab</text>
<text x="319.60" y="285.60" text-anchor="middle" font-size="7.0" fill="#2a2a2a">ab</text>
<text x="343.80" y="284.60" text-anchor="middle" font-size="7.0" fill="#2a2a2a">a</text>
<text x="369.90" y="284.90" text-anchor="middle" font-size="7.0" fill="#2a2a2a">a</text>
<text x="395.60" y="284.60" text-anchor="middle" font-size="7.0" fill="#2a2a2a">a</text>
<text x="263.50" y="302.30" text-anchor="middle" font-size="7.0" fill="#2a2a2a">a</text>
<text x="290.20" y="303.30" text-anchor="middle" font-size="7.0" fill="#2a2a2a">a</text>
<text x="315.50" y="302.60" text-anchor="middle" font-size="7.0" fill="#2a2a2a">a</text>
<text x="343.60" y="300.60" text-anchor="middle" font-size="7.0" fill="#2a2a2a">ab</text>
<text x="367.90" y="300.60" text-anchor="middle" font-size="7.0" fill="#2a2a2a">b</text>
<text x="395.80" y="302.60" text-anchor="middle" font-size="7.0" fill="#2a2a2a">ab</text>
<text x="267.00" y="277.00" text-anchor="middle" font-size="7.0" fill="#2a2a2a">b</text>
<text x="295.20" y="273.30" text-anchor="middle" font-size="7.0" fill="#2a2a2a">b</text>
<text x="315.50" y="271.90" text-anchor="middle" font-size="7.0" fill="#2a2a2a">b</text>
<text x="345.20" y="274.00" text-anchor="middle" font-size="7.0" fill="#2a2a2a">ab</text>
<text x="369.90" y="250.10" text-anchor="middle" font-size="7.0" fill="#2a2a2a">d</text>
<text x="397.20" y="272.60" text-anchor="middle" font-size="7.0" fill="#2a2a2a">ab</text>
<text x="265.20" y="245.00" text-anchor="middle" font-size="7.0" fill="#2a2a2a">a</text>
<text x="290.20" y="247.40" text-anchor="middle" font-size="7.0" fill="#2a2a2a">a</text>
<text x="319.00" y="247.40" text-anchor="middle" font-size="7.0" fill="#2a2a2a">ab</text>
<text x="344.50" y="248.70" text-anchor="middle" font-size="7.0" fill="#2a2a2a">b</text>
<text x="370.60" y="271.00" text-anchor="middle" font-size="7.0" fill="#2a2a2a">a</text>
<text x="393.80" y="249.10" text-anchor="middle" font-size="7.0" fill="#2a2a2a">c</text>
<rect x="45.4" y="364.0" width="155.60" height="134.80" fill="none" stroke="#2b2b2b" stroke-width="1.3"/>
<line x1="42.10" y1="498.80" x2="45.4" y2="498.80" stroke="#2b2b2b" stroke-width="1.1"/>
<text x="39.80" y="501.30" text-anchor="end" font-size="7.2" fill="#383838" style="stroke-width:0.05px">0</text>
<line x1="43.40" y1="489.17" x2="45.4" y2="489.17" stroke="#2b2b2b" stroke-width="1.1"/>
<line x1="42.10" y1="479.54" x2="45.4" y2="479.54" stroke="#2b2b2b" stroke-width="1.1"/>
<text x="39.80" y="482.04" text-anchor="end" font-size="7.2" fill="#383838" style="stroke-width:0.05px">10</text>
<line x1="43.40" y1="469.91" x2="45.4" y2="469.91" stroke="#2b2b2b" stroke-width="1.1"/>
<line x1="42.10" y1="460.29" x2="45.4" y2="460.29" stroke="#2b2b2b" stroke-width="1.1"/>
<text x="39.80" y="462.79" text-anchor="end" font-size="7.2" fill="#383838" style="stroke-width:0.05px">20</text>
<line x1="43.40" y1="450.66" x2="45.4" y2="450.66" stroke="#2b2b2b" stroke-width="1.1"/>
<line x1="42.10" y1="441.03" x2="45.4" y2="441.03" stroke="#2b2b2b" stroke-width="1.1"/>
<text x="39.80" y="443.53" text-anchor="end" font-size="7.2" fill="#383838" style="stroke-width:0.05px">30</text>
<line x1="43.40" y1="431.40" x2="45.4" y2="431.40" stroke="#2b2b2b" stroke-width="1.1"/>
<line x1="42.10" y1="421.77" x2="45.4" y2="421.77" stroke="#2b2b2b" stroke-width="1.1"/>
<text x="39.80" y="424.27" text-anchor="end" font-size="7.2" fill="#383838" style="stroke-width:0.05px">40</text>
<line x1="43.40" y1="412.14" x2="45.4" y2="412.14" stroke="#2b2b2b" stroke-width="1.1"/>
<line x1="42.10" y1="402.51" x2="45.4" y2="402.51" stroke="#2b2b2b" stroke-width="1.1"/>
<text x="39.80" y="405.01" text-anchor="end" font-size="7.2" fill="#383838" style="stroke-width:0.05px">50</text>
<line x1="43.40" y1="392.89" x2="45.4" y2="392.89" stroke="#2b2b2b" stroke-width="1.1"/>
<line x1="42.10" y1="383.26" x2="45.4" y2="383.26" stroke="#2b2b2b" stroke-width="1.1"/>
<text x="39.80" y="385.76" text-anchor="end" font-size="7.2" fill="#383838" style="stroke-width:0.05px">60</text>
<line x1="43.40" y1="373.63" x2="45.4" y2="373.63" stroke="#2b2b2b" stroke-width="1.1"/>
<line x1="42.10" y1="364.00" x2="45.4" y2="364.00" stroke="#2b2b2b" stroke-width="1.1"/>
<text x="39.80" y="366.50" text-anchor="end" font-size="7.2" fill="#383838" style="stroke-width:0.05px">70</text>
<line x1="58.40" y1="498.8" x2="58.40" y2="501.80" stroke="#2b2b2b" stroke-width="1.1"/>
<text x="58.40" y="509.40" text-anchor="middle" font-size="7.2" fill="#383838" style="stroke-width:0.05px">0</text>
<line x1="71.38" y1="498.8" x2="71.38" y2="500.40" stroke="#2b2b2b" stroke-width="1.1"/>
<line x1="84.35" y1="498.8" x2="84.35" y2="501.80" stroke="#2b2b2b" stroke-width="1.1"/>
<text x="84.35" y="509.40" text-anchor="middle" font-size="7.2" fill="#383838" style="stroke-width:0.05px">5</text>
<line x1="97.32" y1="498.8" x2="97.32" y2="500.40" stroke="#2b2b2b" stroke-width="1.1"/>
<line x1="110.30" y1="498.8" x2="110.30" y2="501.80" stroke="#2b2b2b" stroke-width="1.1"/>
<text x="110.30" y="509.40" text-anchor="middle" font-size="7.2" fill="#383838" style="stroke-width:0.05px">10</text>
<line x1="123.27" y1="498.8" x2="123.27" y2="500.40" stroke="#2b2b2b" stroke-width="1.1"/>
<line x1="136.25" y1="498.8" x2="136.25" y2="501.80" stroke="#2b2b2b" stroke-width="1.1"/>
<text x="136.25" y="509.40" text-anchor="middle" font-size="7.2" fill="#383838" style="stroke-width:0.05px">15</text>
<line x1="149.22" y1="498.8" x2="149.22" y2="500.40" stroke="#2b2b2b" stroke-width="1.1"/>
<line x1="162.20" y1="498.8" x2="162.20" y2="501.80" stroke="#2b2b2b" stroke-width="1.1"/>
<text x="162.20" y="509.40" text-anchor="middle" font-size="7.2" fill="#383838" style="stroke-width:0.05px">20</text>
<line x1="175.18" y1="498.8" x2="175.18" y2="500.40" stroke="#2b2b2b" stroke-width="1.1"/>
<line x1="188.15" y1="498.8" x2="188.15" y2="501.80" stroke="#2b2b2b" stroke-width="1.1"/>
<text x="188.15" y="509.40" text-anchor="middle" font-size="7.2" fill="#383838" style="stroke-width:0.05px">25</text>
<text x="123.20" y="523.10" text-anchor="middle" font-size="8.3" fill="#2a2a2a">Bran addition (%)</text>
<text transform="translate(14.60,428.20) rotate(-90)" text-anchor="middle" font-size="8.3" fill="#2a2a2a" textLength="108.2" lengthAdjust="spacingAndGlyphs">Secondary structure content (%)</text>
<text x="14.80" y="370.3" font-family='"Liberation Sans", sans-serif' font-weight="bold" font-size="14" fill="#000" style="stroke-width:0.1px;stroke:#000">e</text>
<path d="M58.40,428.30V436.60M57.00,428.30H59.80M57.00,436.60H59.80" stroke="#ff7f1e" stroke-width="0.8" fill="none" opacity="0.35"/>
<path d="M136.25,435.50V443.80M134.85,435.50H137.65M134.85,443.80H137.65" stroke="#1474c2" stroke-width="0.8" fill="none" opacity="0.35"/>
<polyline points="58.40,438.40 84.35,434.30 110.30,439.70 136.25,439.30 162.20,439.70 188.15,440.00" fill="none" stroke="#1474c2" stroke-width="0.95" stroke-linejoin="round"/>
<rect x="56.45" y="436.45" width="3.9" height="3.9" rx="1.1" fill="#1474c2"/>
<rect x="82.40" y="432.35" width="3.9" height="3.9" rx="1.1" fill="#1474c2"/>
<rect x="108.35" y="437.75" width="3.9" height="3.9" rx="1.1" fill="#1474c2"/>
<rect x="134.30" y="437.35" width="3.9" height="3.9" rx="1.1" fill="#1474c2"/>
<rect x="160.25" y="437.75" width="3.9" height="3.9" rx="1.1" fill="#1474c2"/>
<rect x="186.20" y="438.05" width="3.9" height="3.9" rx="1.1" fill="#1474c2"/>
<polyline points="58.40,466.20 84.35,466.20 110.30,472.50 136.25,466.20 162.20,467.30 188.15,468.40" fill="none" stroke="#e20a1a" stroke-width="0.95" stroke-linejoin="round"/>
<circle cx="58.40" cy="466.20" r="2.0" fill="#e20a1a"/>
<circle cx="84.35" cy="466.20" r="2.0" fill="#e20a1a"/>
<circle cx="110.30" cy="472.50" r="2.0" fill="#e20a1a"/>
<circle cx="136.25" cy="466.20" r="2.0" fill="#e20a1a"/>
<circle cx="162.20" cy="467.30" r="2.0" fill="#e20a1a"/>
<circle cx="188.15" cy="468.40" r="2.0" fill="#e20a1a"/>
<polyline points="58.40,465.30 84.35,465.30 110.30,461.60 136.25,465.00 162.20,465.30 188.15,465.90" fill="none" stroke="#44ad2c" stroke-width="0.95" stroke-linejoin="round"/>
<path d="M58.40,462.80 L60.75,467.00 L56.05,467.00Z" fill="#44ad2c"/>
<path d="M84.35,462.80 L86.70,467.00 L82.00,467.00Z" fill="#44ad2c"/>
<path d="M110.30,459.10 L112.65,463.30 L107.95,463.30Z" fill="#44ad2c"/>
<path d="M136.25,462.50 L138.60,466.70 L133.90,466.70Z" fill="#44ad2c"/>
<path d="M162.20,462.80 L164.55,467.00 L159.85,467.00Z" fill="#44ad2c"/>
<path d="M188.15,463.40 L190.50,467.60 L185.80,467.60Z" fill="#44ad2c"/>
<polyline points="58.40,432.50 84.35,436.60 110.30,428.80 136.25,431.60 162.20,430.20 188.15,427.70" fill="none" stroke="#ff7f1e" stroke-width="0.95" stroke-linejoin="round"/>
<path d="M56.05,430.80 L60.75,430.80 L58.40,435.00Z" fill="#ff7f1e"/>
<path d="M82.00,434.90 L86.70,434.90 L84.35,439.10Z" fill="#ff7f1e"/>
<path d="M107.95,427.10 L112.65,427.10 L110.30,431.30Z" fill="#ff7f1e"/>
<path d="M133.90,429.90 L138.60,429.90 L136.25,434.10Z" fill="#ff7f1e"/>
<path d="M159.85,428.50 L164.55,428.50 L162.20,432.70Z" fill="#ff7f1e"/>
<path d="M185.80,426.00 L190.50,426.00 L188.15,430.20Z" fill="#ff7f1e"/>
<text x="58.60" y="460.40" text-anchor="middle" font-size="7.0" fill="#2a2a2a">b</text>
<text x="86.50" y="460.40" text-anchor="middle" font-size="7.0" fill="#2a2a2a">ab</text>
<text x="110.90" y="457.40" text-anchor="middle" font-size="7.0" fill="#2a2a2a">a</text>
<text x="136.60" y="460.10" text-anchor="middle" font-size="7.0" fill="#2a2a2a">b</text>
<text x="162.60" y="460.80" text-anchor="middle" font-size="7.0" fill="#2a2a2a">b</text>
<text x="188.80" y="461.80" text-anchor="middle" font-size="7.0" fill="#2a2a2a">b</text>
<text x="58.60" y="478.30" text-anchor="middle" font-size="7.0" fill="#2a2a2a">a</text>
<text x="84.60" y="478.30" text-anchor="middle" font-size="7.0" fill="#2a2a2a">a</text>
<text x="110.60" y="484.00" text-anchor="middle" font-size="7.0" fill="#2a2a2a">c</text>
<text x="138.50" y="478.20" text-anchor="middle" font-size="7.0" fill="#2a2a2a">ab</text>
<text x="162.60" y="479.00" text-anchor="middle" font-size="7.0" fill="#2a2a2a">b</text>
<text x="188.80" y="479.50" text-anchor="middle" font-size="7.0" fill="#2a2a2a">b</text>
<text x="58.60" y="449.00" text-anchor="middle" font-size="7.0" fill="#2a2a2a">b</text>
<text x="83.70" y="429.70" text-anchor="middle" font-size="7.0" fill="#2a2a2a">c</text>
<text x="110.90" y="450.60" text-anchor="middle" font-size="7.0" fill="#2a2a2a">b</text>
<text x="136.80" y="450.30" text-anchor="middle" font-size="7.0" fill="#2a2a2a">b</text>
<text x="162.60" y="450.60" text-anchor="middle" font-size="7.0" fill="#2a2a2a">b</text>
<text x="188.60" y="451.70" text-anchor="middle" font-size="7.0" fill="#2a2a2a">c</text>
<text x="59.20" y="425.00" text-anchor="middle" font-size="7.0" fill="#2a2a2a">bc</text>
<text x="84.60" y="445.40" text-anchor="middle" font-size="7.0" fill="#2a2a2a">a</text>
<text x="109.50" y="421.70" text-anchor="middle" font-size="7.0" fill="#2a2a2a">a</text>
<text x="135.70" y="424.40" text-anchor="middle" font-size="7.0" fill="#2a2a2a">b</text>
<text x="161.80" y="422.20" text-anchor="middle" font-size="7.0" fill="#2a2a2a">b</text>
<text x="189.50" y="420.30" text-anchor="middle" font-size="7.0" fill="#2a2a2a">ab</text>
<rect x="253.0" y="364.4" width="155.40" height="134.40" fill="none" stroke="#2b2b2b" stroke-width="1.3"/>
<line x1="249.70" y1="498.80" x2="253.0" y2="498.80" stroke="#2b2b2b" stroke-width="1.1"/>
<text x="247.40" y="501.30" text-anchor="end" font-size="7.2" fill="#383838" style="stroke-width:0.05px">0</text>
<line x1="251.00" y1="489.20" x2="253.0" y2="489.20" stroke="#2b2b2b" stroke-width="1.1"/>
<line x1="249.70" y1="479.60" x2="253.0" y2="479.60" stroke="#2b2b2b" stroke-width="1.1"/>
<text x="247.40" y="482.10" text-anchor="end" font-size="7.2" fill="#383838" style="stroke-width:0.05px">10</text>
<line x1="251.00" y1="470.00" x2="253.0" y2="470.00" stroke="#2b2b2b" stroke-width="1.1"/>
<line x1="249.70" y1="460.40" x2="253.0" y2="460.40" stroke="#2b2b2b" stroke-width="1.1"/>
<text x="247.40" y="462.90" text-anchor="end" font-size="7.2" fill="#383838" style="stroke-width:0.05px">20</text>
<line x1="251.00" y1="450.80" x2="253.0" y2="450.80" stroke="#2b2b2b" stroke-width="1.1"/>
<line x1="249.70" y1="441.20" x2="253.0" y2="441.20" stroke="#2b2b2b" stroke-width="1.1"/>
<text x="247.40" y="443.70" text-anchor="end" font-size="7.2" fill="#383838" style="stroke-width:0.05px">30</text>
<line x1="251.00" y1="431.60" x2="253.0" y2="431.60" stroke="#2b2b2b" stroke-width="1.1"/>
<line x1="249.70" y1="422.00" x2="253.0" y2="422.00" stroke="#2b2b2b" stroke-width="1.1"/>
<text x="247.40" y="424.50" text-anchor="end" font-size="7.2" fill="#383838" style="stroke-width:0.05px">40</text>
<line x1="251.00" y1="412.40" x2="253.0" y2="412.40" stroke="#2b2b2b" stroke-width="1.1"/>
<line x1="249.70" y1="402.80" x2="253.0" y2="402.80" stroke="#2b2b2b" stroke-width="1.1"/>
<text x="247.40" y="405.30" text-anchor="end" font-size="7.2" fill="#383838" style="stroke-width:0.05px">50</text>
<line x1="251.00" y1="393.20" x2="253.0" y2="393.20" stroke="#2b2b2b" stroke-width="1.1"/>
<line x1="249.70" y1="383.60" x2="253.0" y2="383.60" stroke="#2b2b2b" stroke-width="1.1"/>
<text x="247.40" y="386.10" text-anchor="end" font-size="7.2" fill="#383838" style="stroke-width:0.05px">60</text>
<line x1="251.00" y1="374.00" x2="253.0" y2="374.00" stroke="#2b2b2b" stroke-width="1.1"/>
<line x1="249.70" y1="364.40" x2="253.0" y2="364.40" stroke="#2b2b2b" stroke-width="1.1"/>
<text x="247.40" y="366.90" text-anchor="end" font-size="7.2" fill="#383838" style="stroke-width:0.05px">70</text>
<line x1="265.90" y1="498.8" x2="265.90" y2="501.80" stroke="#2b2b2b" stroke-width="1.1"/>
<text x="265.90" y="509.40" text-anchor="middle" font-size="7.2" fill="#383838" style="stroke-width:0.05px">0</text>
<line x1="278.88" y1="498.8" x2="278.88" y2="500.40" stroke="#2b2b2b" stroke-width="1.1"/>
<line x1="291.86" y1="498.8" x2="291.86" y2="501.80" stroke="#2b2b2b" stroke-width="1.1"/>
<text x="291.86" y="509.40" text-anchor="middle" font-size="7.2" fill="#383838" style="stroke-width:0.05px">5</text>
<line x1="304.84" y1="498.8" x2="304.84" y2="500.40" stroke="#2b2b2b" stroke-width="1.1"/>
<line x1="317.82" y1="498.8" x2="317.82" y2="501.80" stroke="#2b2b2b" stroke-width="1.1"/>
<text x="317.82" y="509.40" text-anchor="middle" font-size="7.2" fill="#383838" style="stroke-width:0.05px">10</text>
<line x1="330.80" y1="498.8" x2="330.80" y2="500.40" stroke="#2b2b2b" stroke-width="1.1"/>
<line x1="343.78" y1="498.8" x2="343.78" y2="501.80" stroke="#2b2b2b" stroke-width="1.1"/>
<text x="343.78" y="509.40" text-anchor="middle" font-size="7.2" fill="#383838" style="stroke-width:0.05px">15</text>
<line x1="356.76" y1="498.8" x2="356.76" y2="500.40" stroke="#2b2b2b" stroke-width="1.1"/>
<line x1="369.74" y1="498.8" x2="369.74" y2="501.80" stroke="#2b2b2b" stroke-width="1.1"/>
<text x="369.74" y="509.40" text-anchor="middle" font-size="7.2" fill="#383838" style="stroke-width:0.05px">20</text>
<line x1="382.72" y1="498.8" x2="382.72" y2="500.40" stroke="#2b2b2b" stroke-width="1.1"/>
<line x1="395.70" y1="498.8" x2="395.70" y2="501.80" stroke="#2b2b2b" stroke-width="1.1"/>
<text x="395.70" y="509.40" text-anchor="middle" font-size="7.2" fill="#383838" style="stroke-width:0.05px">25</text>
<text x="330.70" y="523.10" text-anchor="middle" font-size="8.3" fill="#2a2a2a">Bran addition (%)</text>
<text transform="translate(225.00,427.50) rotate(-90)" text-anchor="middle" font-size="8.3" fill="#2a2a2a" textLength="108.6" lengthAdjust="spacingAndGlyphs">Secondary structure content (%)</text>
<text x="226.00" y="370.7" font-family='"Liberation Sans", sans-serif' font-weight="bold" font-size="14" fill="#000" style="stroke-width:0.1px;stroke:#000">f</text>
<path d="M265.90,428.50V436.50M264.50,428.50H267.30M264.50,436.50H267.30" stroke="#ff7f1e" stroke-width="0.8" fill="none" opacity="0.35"/>
<path d="M317.82,428.00V435.40M316.42,428.00H319.22M316.42,435.40H319.22" stroke="#1474c2" stroke-width="0.8" fill="none" opacity="0.35"/>
<path d="M317.82,436.50V444.50M316.42,436.50H319.22M316.42,444.50H319.22" stroke="#ff7f1e" stroke-width="0.8" fill="none" opacity="0.35"/>
<path d="M369.74,425.50V432.20M368.34,425.50H371.14M368.34,432.20H371.14" stroke="#1474c2" stroke-width="0.8" fill="none" opacity="0.35"/>
<path d="M369.74,439.20V447.50M368.34,439.20H371.14M368.34,447.50H371.14" stroke="#ff7f1e" stroke-width="0.8" fill="none" opacity="0.35"/>
<polyline points="265.90,438.40 291.86,425.70 317.82,431.60 343.78,432.90 369.74,429.10 395.70,429.40" fill="none" stroke="#1474c2" stroke-width="0.95" stroke-linejoin="round"/>
<rect x="263.95" y="436.45" width="3.9" height="3.9" rx="1.1" fill="#1474c2"/>
<rect x="289.91" y="423.75" width="3.9" height="3.9" rx="1.1" fill="#1474c2"/>
<rect x="315.87" y="429.65" width="3.9" height="3.9" rx="1.1" fill="#1474c2"/>
<rect x="341.83" y="430.95" width="3.9" height="3.9" rx="1.1" fill="#1474c2"/>
<rect x="367.79" y="427.15" width="3.9" height="3.9" rx="1.1" fill="#1474c2"/>
<rect x="393.75" y="427.45" width="3.9" height="3.9" rx="1.1" fill="#1474c2"/>
<polyline points="265.90,465.90 291.86,463.20 317.82,463.50 343.78,467.00 369.74,463.20 395.70,462.10" fill="none" stroke="#e20a1a" stroke-width="0.95" stroke-linejoin="round"/>
<circle cx="265.90" cy="465.90" r="2.0" fill="#e20a1a"/>
<circle cx="291.86" cy="463.20" r="2.0" fill="#e20a1a"/>
<circle cx="317.82" cy="463.50" r="2.0" fill="#e20a1a"/>
<circle cx="343.78" cy="467.00" r="2.0" fill="#e20a1a"/>
<circle cx="369.74" cy="463.20" r="2.0" fill="#e20a1a"/>
<circle cx="395.70" cy="462.10" r="2.0" fill="#e20a1a"/>
<polyline points="265.90,465.70 291.86,467.00 317.82,466.20 343.78,465.30 369.74,465.90 395.70,467.30" fill="none" stroke="#44ad2c" stroke-width="0.95" stroke-linejoin="round"/>
<path d="M265.90,463.20 L268.25,467.40 L263.55,467.40Z" fill="#44ad2c"/>
<path d="M291.86,464.50 L294.21,468.70 L289.51,468.70Z" fill="#44ad2c"/>
<path d="M317.82,463.70 L320.17,467.90 L315.47,467.90Z" fill="#44ad2c"/>
<path d="M343.78,462.80 L346.13,467.00 L341.43,467.00Z" fill="#44ad2c"/>
<path d="M369.74,463.40 L372.09,467.60 L367.39,467.60Z" fill="#44ad2c"/>
<path d="M395.70,464.80 L398.05,469.00 L393.35,469.00Z" fill="#44ad2c"/>
<polyline points="265.90,432.50 291.86,446.60 317.82,440.00 343.78,436.60 369.74,443.40 395.70,443.40" fill="none" stroke="#ff7f1e" stroke-width="0.95" stroke-linejoin="round"/>
<path d="M263.55,430.80 L268.25,430.80 L265.90,435.00Z" fill="#ff7f1e"/>
<path d="M289.51,444.90 L294.21,444.90 L291.86,449.10Z" fill="#ff7f1e"/>
<path d="M315.47,438.30 L320.17,438.30 L317.82,442.50Z" fill="#ff7f1e"/>
<path d="M341.43,434.90 L346.13,434.90 L343.78,439.10Z" fill="#ff7f1e"/>
<path d="M367.39,441.70 L372.09,441.70 L369.74,445.90Z" fill="#ff7f1e"/>
<path d="M393.35,441.70 L398.05,441.70 L395.70,445.90Z" fill="#ff7f1e"/>
<text x="267.60" y="479.00" text-anchor="middle" font-size="7.0" fill="#2a2a2a">bc</text>
<text x="291.20" y="476.20" text-anchor="middle" font-size="7.0" fill="#2a2a2a">a</text>
<text x="319.00" y="476.50" text-anchor="middle" font-size="7.0" fill="#2a2a2a">ab</text>
<text x="343.60" y="479.50" text-anchor="middle" font-size="7.0" fill="#2a2a2a">b</text>
<text x="371.30" y="476.20" text-anchor="middle" font-size="7.0" fill="#2a2a2a">ab</text>
<text x="395.60" y="475.20" text-anchor="middle" font-size="7.0" fill="#2a2a2a">a</text>
<text x="268.60" y="458.80" text-anchor="middle" font-size="7.0" fill="#2a2a2a">ab</text>
<text x="292.10" y="460.40" text-anchor="middle" font-size="7.0" fill="#2a2a2a">b</text>
<text x="318.60" y="460.10" text-anchor="middle" font-size="7.0" fill="#2a2a2a">b</text>
<text x="344.10" y="459.50" text-anchor="middle" font-size="7.0" fill="#2a2a2a">a</text>
<text x="370.20" y="459.90" text-anchor="middle" font-size="7.0" fill="#2a2a2a">a</text>
<text x="395.80" y="460.80" text-anchor="middle" font-size="7.0" fill="#2a2a2a">a</text>
<text x="265.60" y="450.30" text-anchor="middle" font-size="7.0" fill="#2a2a2a">a</text>
<text x="291.60" y="422.60" text-anchor="middle" font-size="7.0" fill="#2a2a2a">a</text>
<text x="318.60" y="425.60" text-anchor="middle" font-size="7.0" fill="#2a2a2a">bc</text>
<text x="342.20" y="425.40" text-anchor="middle" font-size="7.0" fill="#2a2a2a">c</text>
<text x="369.90" y="425.80" text-anchor="middle" font-size="7.0" fill="#2a2a2a">b</text>
<text x="395.60" y="425.00" text-anchor="middle" font-size="7.0" fill="#2a2a2a">b</text>
<text x="265.90" y="425.80" text-anchor="middle" font-size="7.0" fill="#2a2a2a">d</text>
<text x="292.10" y="454.40" text-anchor="middle" font-size="7.0" fill="#2a2a2a">d</text>
<text x="318.20" y="450.30" text-anchor="middle" font-size="7.0" fill="#2a2a2a">c</text>
<text x="343.80" y="445.80" text-anchor="middle" font-size="7.0" fill="#2a2a2a">b</text>
<text x="370.20" y="454.40" text-anchor="middle" font-size="7.0" fill="#2a2a2a">c</text>
<text x="396.50" y="453.60" text-anchor="middle" font-size="7.0" fill="#2a2a2a">bc</text>
<line x1="116.5" y1="540.4" x2="134.5" y2="540.4" stroke="#1474c2" stroke-width="1.1"/>
<g transform="translate(125.50,540.4) scale(0.85) translate(-125.50,-540.4)"><rect x="123.55" y="538.45" width="3.9" height="3.9" rx="1.1" fill="#1474c2"/></g>
<text x="137.0" y="543.20" font-size="8.3" fill="#2a2a2a">β-sheet</text>
<line x1="164.3" y1="540.4" x2="183.4" y2="540.4" stroke="#e20a1a" stroke-width="1.1"/>
<g transform="translate(173.85,540.4) scale(0.85) translate(-173.85,-540.4)"><circle cx="173.85" cy="540.40" r="2.0" fill="#e20a1a"/></g>
<text x="185.5" y="543.20" font-size="8.3" fill="#2a2a2a">random structure</text>
<line x1="244.4" y1="540.4" x2="263.2" y2="540.4" stroke="#44ad2c" stroke-width="1.1"/>
<g transform="translate(253.80,540.4) scale(0.85) translate(-253.80,-540.4)"><path d="M253.80,537.90 L256.15,542.10 L251.45,542.10Z" fill="#44ad2c"/></g>
<text x="266.0" y="543.20" font-size="8.3" fill="#2a2a2a">α-helix</text>
<line x1="291.3" y1="540.4" x2="310.3" y2="540.4" stroke="#ff7f1e" stroke-width="1.1"/>
<g transform="translate(300.80,540.4) scale(0.85) translate(-300.80,-540.4)"><path d="M298.45,538.70 L303.15,538.70 L300.80,542.90Z" fill="#ff7f1e"/></g>
<text x="312.6" y="543.20" font-size="8.3" fill="#2a2a2a">β-turns</text>
</svg>
</body></html>
